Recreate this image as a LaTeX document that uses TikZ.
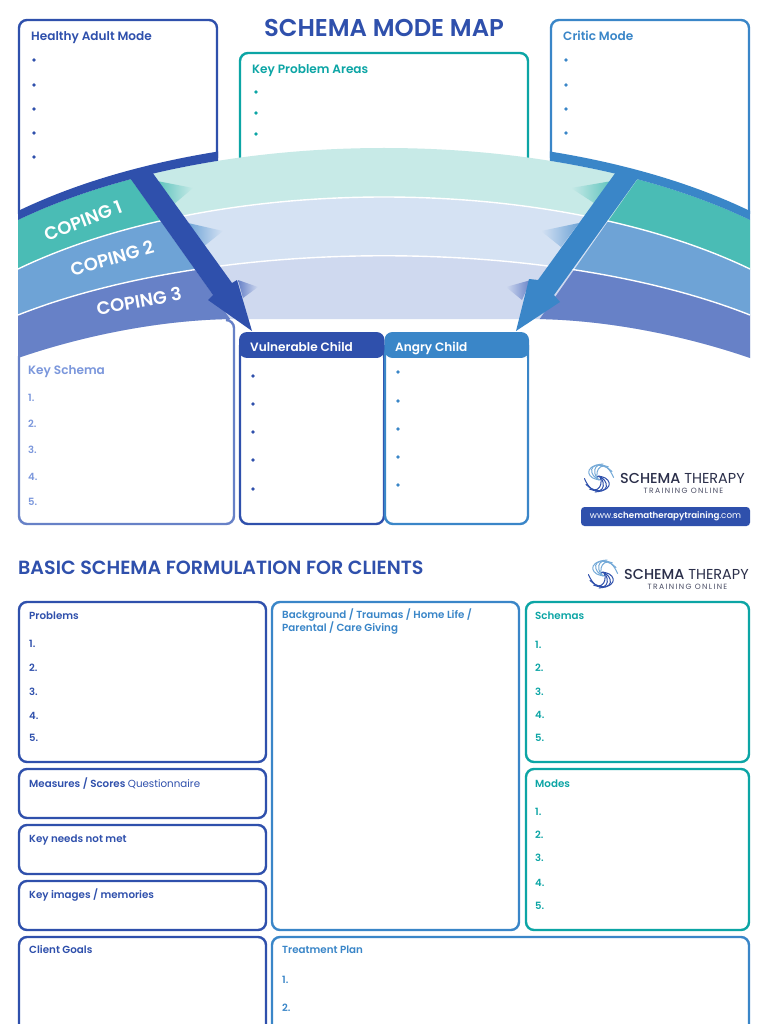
\documentclass[tikz,border=0pt]{standalone}
\usepackage{fontspec}
\setmainfont{Poppins}[BoldFont={Poppins SemiBold}]
\newfontfamily\medfont{Poppins Medium}
\usetikzlibrary{calc}
\definecolor{dk}{HTML}{2F50AC}
\definecolor{md}{HTML}{3A86C8}
\definecolor{tl}{HTML}{0CA5A5}
\definecolor{bt}{HTML}{4ABCB5}
\definecolor{bm}{HTML}{6EA3D6}
\definecolor{bb}{HTML}{6781C7}
\definecolor{lt}{HTML}{C7EAE7}
\definecolor{lm}{HTML}{D5E2F3}
\definecolor{lb}{HTML}{CFD9EF}
\definecolor{ks}{HTML}{7B97DC}
\definecolor{ink}{HTML}{2B2F4A}
\def\cTop{(18,220) .. controls (218,124) and (550,124) .. (750,220)}
\def\cOne{(18,269) .. controls (218,173) and (550,173) .. (750,269)}
\def\cTwo{(18,315) .. controls (218,236) and (550,236) .. (750,315)}
\tikzset{
  x=1pt,y=-1pt,
  panel/.style={line width=2.4pt,rounded corners=8pt},
  ttl/.style={anchor=base west,inner sep=0pt,font=\fontsize{12.1}{13}\selectfont\bfseries},
  sm/.style={anchor=base west,inner sep=0pt,font=\fontsize{10.3}{12.8}\selectfont\bfseries},
  num/.style={anchor=base west,inner sep=0pt,font=\fontsize{10}{12}\selectfont\bfseries},
  cop/.style={inner sep=0pt,text=white,font=\fontsize{18}{19}\selectfont\bfseries},
  dot/.style={circle,inner sep=0pt,minimum size=3.8pt},
  trn/.style={anchor=center,inner sep=0pt,text=ink!85,font=\fontsize{7.6}{9}\selectfont\addfontfeatures{LetterSpace=18}},
  brand/.style={anchor=west,inner sep=0pt,text=ink,font=\fontsize{14.4}{16}\selectfont},
  pics/swirl/.style={code={
    \foreach \a/\c in {0/md!70!white,180/dk}{
      \foreach \k in {0,1,2,3}{
        \draw[\c,line width=1pt,line cap=round,rotate=\a-\k*24]
          (1.5,1.5) .. controls (-10,3) and (-19,-12) .. (4,-14);
      }
    }}},
}
\begin{document}
\begin{tikzpicture}
\useasboundingbox (0,0) rectangle (768,1024);
\fill[white] (0,0) rectangle (768,1024);
\begin{scope}
\clip (0,0) rectangle (768,1024);

% title
\node[anchor=center,inner sep=0pt,text=dk,font=\fontsize{24.3}{26}\selectfont\bfseries] (title) at (384,28) {SCHEMA MODE MAP};

% upper panels
\draw[dk,panel] (19,214) -- (19,20) -- (217,20) -- (217,158);
\draw[md,panel] (551,158) -- (551,20) -- (749,20) -- (749,214);
\draw[tl,panel] (240,170) -- (240,53) -- (528,53) -- (528,170);

% light bands
\fill[lt] \cTop -- (750,269) .. controls (550,173) and (218,173) .. (18,269) -- cycle;
\fill[lm] \cOne -- (750,315) .. controls (550,236) and (218,236) .. (18,315) -- cycle;
\fill[lb] \cTwo -- (750,358) .. controls (698,340) and (618,320) .. (535,319) -- (233,319) .. controls (150,320) and (70,340) .. (18,358) -- cycle;

% saturated bands, both sides
\foreach \side in {L,R}{
\begin{scope}
  \if\side L
    \clip (0,100) -- (89,120) -- (245,340) -- (0,380) -- cycle;
  \else
    \clip (768,100) -- (679,120) -- (525,340) -- (768,380) -- cycle;
  \fi
  \fill[bt] \cTop -- (750,269) .. controls (550,173) and (218,173) .. (18,269) -- cycle;
  \fill[bm] \cOne -- (750,315) .. controls (550,236) and (218,236) .. (18,315) -- cycle;
  \fill[bb] \cTwo -- (750,358) .. controls (698,340) and (618,320) .. (535,319) -- (233,319) .. controls (150,320) and (70,340) .. (18,358) -- cycle;
\end{scope}
}
\draw[white,line width=1.4pt] \cOne;
\draw[white,line width=1.4pt] \cTwo;

% outer edge strips
\begin{scope}
  \clip (17.8,100) rectangle (218.2,230);
  \fill[dk] (18,211) .. controls (218,114.5) and (550,114.5) .. (750,211) -- (750,220) .. controls (550,124) and (218,124) .. (18,220) -- cycle;
\end{scope}
\begin{scope}
  \clip (549.8,100) rectangle (750.2,230);
  \fill[md] (18,211) .. controls (218,114.5) and (550,114.5) .. (750,211) -- (750,220) .. controls (550,124) and (218,124) .. (18,220) -- cycle;
\end{scope}

% fading wedges
\shade[left color=bt!85!lt,right color=lt] (157,181) -- (193,188) -- (173,205) -- cycle;
\shade[left color=bm,right color=lm] (188,223) -- (223,231) -- (203,247) -- cycle;
\shade[left color=bb,right color=lb] (238,280) -- (258,287) -- (243,298) -- cycle;
\shade[right color=bt!85!lt,left color=lt] (612,181) -- (571,188) -- (594,203) -- cycle;
\shade[right color=bm,left color=lm] (579,223) -- (541,231) -- (561,247) -- cycle;
\shade[right color=bb,left color=lb] (531,280) -- (506,287) -- (522,300) -- cycle;

% arrows
\fill[dk] (130,178) -- (152,172) -- (232,283) -- (237,280) -- (252,331) -- (208,300) -- (213,295) -- cycle;
\fill[md] (638,178) -- (616,172) -- (538,280) -- (529,279) -- (516,331) -- (560,302) -- (554,295) -- cycle;

\node[cop,rotate=21] (cop1) at (83,220.5) {COPING 1};
\node[cop,rotate=16] (cop2) at (112,258) {COPING 2};
\node[cop,rotate=10] (cop3) at (139,301) {COPING 3};

% lower upper-section panels
\draw[bb,panel] (19,356) -- (19,524) -- (234,524) -- (234,320) -- (229,320);
\draw[dk,panel] (240,345) -- (240,524) -- (384,524) -- (384,345);
\draw[md,panel] (385,345) -- (385,524) -- (528,524) -- (528,345);
\fill[dk,rounded corners=8pt] (239,358) -- (239,332) -- (384.5,332) -- (384.5,358) -- cycle;
\fill[md,rounded corners=8pt] (384.5,358) -- (384.5,332) -- (529,332) -- (529,358) -- cycle;
\fill[white] (241.5,358) rectangle (383,400);
\fill[white] (386.5,358) rectangle (526.5,400);

% upper labels
\node[ttl,text=dk] (ha) at (31,41) {Healthy Adult Mode};
\node[ttl,text=tl] (kp) at (252,74) {Key Problem Areas};
\node[ttl,text=md] (cm) at (563,41) {Critic Mode};
\node[ttl,text=ks] (ksc) at (28,374) {Key Schema};
\node[ttl,text=white] (vc) at (250,351) {Vulnerable Child};
\node[ttl,text=white] (ac) at (395,351) {Angry Child};

\foreach \y [count=\i] in {60,85,109,133,157} \node[dot,fill=dk] (hb\i) at (34,\y) {};
\foreach \y [count=\i] in {92,113,134} \node[dot,fill=tl] (kb\i) at (256,\y) {};
\foreach \y [count=\i] in {60,85,109,133} \node[dot,fill=md] (cb\i) at (566,\y) {};
\foreach \y [count=\i] in {376,404,432,460,489} \node[dot,fill=dk] (vb\i) at (253,\y) {};
\foreach \y [count=\i] in {372,401,429,457,485} \node[dot,fill=md] (ab\i) at (398,\y) {};
\foreach \y [count=\i] in {401,427,453,480,505} \node[num,text=ks] (ksn\i) at (28,\y) {\i.};

% logo one
\pic at (599,478) {swirl};
\node[brand] (lg1) at (620,478) {{\medfont SCHEMA} THERAPY};
\node[trn] (lg1b) at (683.5,491) {TRAINING ONLINE};
\node[anchor=center,fill=dk,rounded corners=3.5pt,minimum width=169pt,minimum height=19pt,inner sep=0pt,text=white,font=\fontsize{8.7}{10}\selectfont] (url) at (665.5,516.5) {www.\textbf{schematherapytraining}.com};

% lower section
\node[anchor=base west,inner sep=0pt,text=dk,font=\fontsize{19.1}{21}\selectfont\bfseries] (basic) at (18,574) {BASIC SCHEMA FORMULATION FOR CLIENTS};
\pic at (603,574) {swirl};
\node[brand] (lg2) at (624,574) {{\medfont SCHEMA} THERAPY};
\node[trn] (lg2b) at (687.5,587) {TRAINING ONLINE};

\draw[dk,panel] (19,602) rectangle (266,762);
\draw[dk,panel] (19,769) rectangle (266,818);
\draw[dk,panel] (19,825) rectangle (266,874);
\draw[dk,panel] (19,881) rectangle (266,930);
\draw[dk,panel] (19,937) rectangle (266,1050);
\draw[md,panel] (272,602) rectangle (519,930);
\draw[md,panel] (272,937) rectangle (749,1050);
\draw[tl,panel] (526,602) rectangle (749,762);
\draw[tl,panel] (526,769) rectangle (749,930);

\node[sm,text=dk] (pr) at (29,619) {Problems};
\foreach \y [count=\i] in {647,671,695,719,741} \node[num,text=dk] (prn\i) at (29,\y) {\i.};
\node[sm,text=dk] (ms) at (29,787) {Measures / Scores \mdseries Questionnaire};
\node[sm,text=dk] (kn) at (29,842) {Key needs not met};
\node[sm,text=dk] (ki) at (29,898) {Key images / memories};
\node[sm,text=dk] (cg) at (29,953) {Client Goals};
\node[sm,text=md,align=left,anchor=north west] (bg) at (282,608.5) {Background / Traumas / Home Life /\\Parental / Care Giving};
\node[sm,text=md] (tp) at (282,953) {Treatment Plan};
\node[num,text=md] (tp1) at (282,983) {1.};
\node[num,text=md] (tp2) at (282,1011) {2.};
\node[sm,text=tl] (sc) at (535,619) {Schemas};
\foreach \y [count=\i] in {648,671,695,718,741} \node[num,text=tl] (scn\i) at (535,\y) {\i.};
\node[sm,text=tl] (mo) at (535,787) {Modes};
\foreach \y [count=\i] in {815,838,861,886,909} \node[num,text=tl] (mon\i) at (535,\y) {\i.};
\end{scope}
\end{tikzpicture}
\end{document}
